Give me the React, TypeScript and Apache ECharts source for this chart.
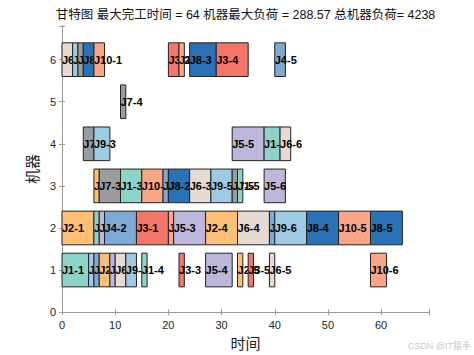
import React, { useEffect, useRef } from "react";
import * as echarts from "echarts";

// Operation labels, machine, start and end time
const opLabels = [
  "J1-1", "J9-2", "J4-1", "J2-3", "J5-2", "J6-2", "J9-4", "J1-4", "J3-3", "J5-4", "J2-5", "J3-5", "J6-5", "J10-6",
  "J2-1", "J1-2", "J5-1", "J4-2", "J3-1", "J10-3", "J5-3", "J2-4", "J6-4", "J4-4", "J9-6", "J8-4", "J10-5", "J8-5",
  "J2-2", "J7-3", "J1-3", "J10-2", "J4-3", "J8-2", "J6-3", "J9-5", "J7-5", "J1-5", "J5-6",
  "J7-2", "J9-3", "J5-5", "J1-6", "J6-6",
  "J7-4",
  "J6-1", "J9-1", "J7-1", "J8-1", "J10-1", "J3-2", "J10-4", "J8-3", "J3-4", "J4-5",
];
const opMachines = [
  1, 1, 1, 1, 1, 1, 1, 1, 1, 1, 1, 1, 1, 1,
  2, 2, 2, 2, 2, 2, 2, 2, 2, 2, 2, 2, 2, 2,
  3, 3, 3, 3, 3, 3, 3, 3, 3, 3, 3,
  4, 4, 4, 4, 4,
  5,
  6, 6, 6, 6, 6, 6, 6, 6, 6, 6,
];
const opStarts = [
  0, 5, 6, 7, 9, 10, 12, 15, 22, 27, 33, 35, 39, 58,
  0, 6, 7, 8, 14, 20, 21, 27, 33, 39, 40, 46, 52, 58,
  6, 7, 11, 15, 19, 20, 24, 28, 32, 33, 38,
  4, 6, 32, 38, 41,
  11,
  0, 2, 3, 4, 6, 20, 22, 24, 29, 40,
];
const opEnds = [
  5, 6, 7, 9, 10, 12, 14, 16, 23, 32, 34, 36, 40, 61,
  6, 7, 8, 14, 20, 21, 27, 33, 39, 40, 46, 52, 58, 64,
  7, 11, 15, 19, 20, 24, 28, 32, 33, 34, 42,
  6, 9, 38, 41, 43,
  12,
  2, 3, 4, 6, 8, 22, 23, 29, 35, 42,
];

// colour of jobs J1..J10
const jobColors = [
  "#8dd3c7", "#fdbf78", "#f4766b", "#7ea9d4", "#bdb7dc",
  "#e6dad2", "#9c9c9c", "#2a72b5", "#9ecae3", "#f9a588",
];

const xTicks = [0, 10, 20, 30, 40, 50, 60];
const yTicks = [0, 1, 2, 3, 4, 5, 6];
const titleText = "甘特图 最大完工时间 = 64 机器最大负荷 = 288.57 总机器负荷= 4238";

export default function App() {
  const ref = useRef<HTMLDivElement>(null);

  useEffect(() => {
    if (!ref.current) return;
    const chart = echarts.init(ref.current, null, { renderer: "svg" });

    const order = opLabels.map((_, i) => i).sort((a, b) => opStarts[a] - opStarts[b]);
    const data = order.map((i) => [opStarts[i], opEnds[i], opMachines[i], i]);

    const axisColor = "#9a9a9a";
    const labelFont = "Arial, 'Liberation Sans', sans-serif";

    const xFmt = (v: number) => (xTicks.indexOf(v) >= 0 ? String(v) : "");
    const yFmt = (v: number) => (yTicks.indexOf(v) >= 0 ? String(v) : "");

    chart.setOption({
      animation: false,
      backgroundColor: "#ffffff",
      grid: { left: 62, right: 45, top: 26, bottom: 40, containLabel: false },
      graphic: [
        {
          type: "text",
          x: 245.5,
          y: 15,
          style: {
            text: titleText,
            align: "center",
            verticalAlign: "middle",
            fontSize: 12.5,
            fontFamily: "'Liberation Sans', 'Noto Sans CJK SC', sans-serif",
            fill: "#111",
          },
        },
        {
          type: "text",
          x: 471,
          y: 346,
          style: {
            text: "CSDN @IT猿手",
            align: "right",
            verticalAlign: "middle",
            fontSize: 9,
            fontFamily: "'Liberation Sans', 'Noto Sans CJK SC', sans-serif",
            fill: "#c8c8c8",
          },
        },
      ],
      xAxis: [
        {
          type: "value",
          min: 0,
          max: 69,
          interval: 10,
          position: "bottom",
          name: "时间",
          nameLocation: "middle",
          nameGap: 21,
          nameTextStyle: { fontSize: 15, color: "#222", fontFamily: "'Noto Sans CJK SC', sans-serif" },
          axisLine: { show: true, lineStyle: { color: axisColor, width: 1 } },
          axisTick: { show: true, inside: true, length: 3, lineStyle: { color: axisColor } },
          axisLabel: { color: "#262626", fontSize: 11, margin: 7, fontFamily: labelFont, formatter: xFmt },
          splitLine: { show: false },
        },
        {
          type: "value",
          min: 0,
          max: 69,
          interval: 10,
          position: "top",
          axisLine: { show: true, lineStyle: { color: axisColor, width: 1 } },
          axisTick: { show: true, inside: true, length: 3, lineStyle: { color: axisColor } },
          axisLabel: { show: false },
          splitLine: { show: false },
        },
      ],
      yAxis: [
        {
          type: "value",
          min: 0,
          max: 6.8,
          interval: 1,
          position: "left",
          name: "机器",
          nameLocation: "middle",
          nameGap: 17,
          nameTextStyle: { fontSize: 15, color: "#222", fontFamily: "'Noto Sans CJK SC', sans-serif" },
          axisLine: { show: true, lineStyle: { color: axisColor, width: 1 } },
          axisTick: { show: true, inside: true, length: 3, lineStyle: { color: axisColor } },
          axisLabel: { color: "#262626", fontSize: 11, margin: 6, fontFamily: labelFont, formatter: yFmt },
          splitLine: { show: false },
        },
        {
          type: "value",
          min: 0,
          max: 6.8,
          interval: 1,
          position: "right",
          axisLine: { show: true, lineStyle: { color: axisColor, width: 1 } },
          axisTick: { show: true, inside: true, length: 3, lineStyle: { color: axisColor } },
          axisLabel: { show: false },
          splitLine: { show: false },
        },
      ],
      series: [
        {
          type: "custom",
          xAxisIndex: 0,
          yAxisIndex: 0,
          encode: { x: [0, 1], y: 2 },
          data,
          renderItem: (params: any, api: any) => {
            const s = api.value(0);
            const e = api.value(1);
            const m = api.value(2);
            const idx = api.value(3);
            const label = opLabels[idx];
            const job = parseInt(label.slice(1), 10);
            const p0 = api.coord([s, m]);
            const p1 = api.coord([e, m]);
            const h = api.size([0, 0.8])[1];
            return {
              type: "group",
              children: [
                {
                  type: "rect",
                  shape: { x: p0[0], y: p0[1] - h / 2, width: p1[0] - p0[0], height: h },
                  style: { fill: jobColors[job - 1], stroke: "#222", lineWidth: 1 },
                },
                {
                  type: "text",
                  x: p0[0],
                  y: p0[1],
                  style: {
                    text: label,
                    fill: "#000",
                    fontSize: 11,
                    fontWeight: "bold",
                    fontFamily: labelFont,
                    align: "left",
                    verticalAlign: "middle",
                  },
                },
              ],
            };
          },
        },
      ],
    });

    return () => chart.dispose();
  }, []);

  return (
    <div
      ref={ref}
      style={{ position: "fixed", left: 0, top: 0, width: 474, height: 355, background: "#fff" }}
    />
  );
}
